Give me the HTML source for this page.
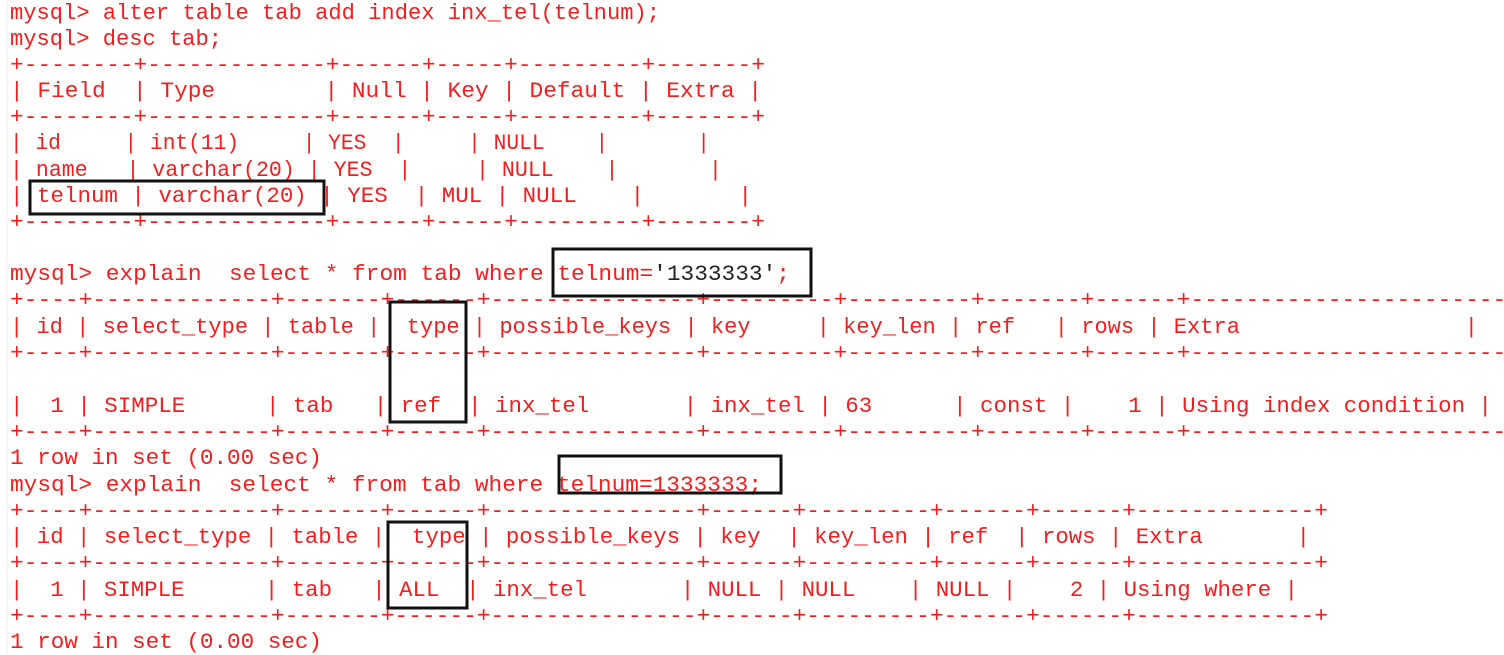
<!DOCTYPE html>
<html><head><meta charset="utf-8"><style>
html,body{margin:0;padding:0;background:#fff;width:1504px;height:655px;overflow:hidden}
svg text{font-family:"Liberation Mono","Courier New",monospace;font-size:22px;fill:#f51c1c;white-space:pre}
</style></head><body>
<svg width="1504" height="655" viewBox="0 0 1504 655" xmlns="http://www.w3.org/2000/svg">
<line x1="7" y1="0" x2="7" y2="655" stroke="#eee" stroke-width="1"/>
<g xml:space="preserve">
<text x="10" y="19" textLength="650" lengthAdjust="spacingAndGlyphs">mysql> alter table tab add index inx_tel(telnum);</text>
<text x="10" y="45" textLength="212" lengthAdjust="spacingAndGlyphs">mysql> desc tab;</text>
<text x="10" y="71" textLength="755" lengthAdjust="spacingAndGlyphs">+--------+-------------+------+-----+---------+-------+</text>
<text x="10" y="97" textLength="752" lengthAdjust="spacingAndGlyphs">| Field  | Type        | Null | Key | Default | Extra |</text>
<text x="10" y="123" textLength="755" lengthAdjust="spacingAndGlyphs">+--------+-------------+------+-----+---------+-------+</text>
<text x="10" y="149" textLength="700" lengthAdjust="spacingAndGlyphs">| id     | int(11)     | YES  |     | NULL    |       |</text>
<text x="10" y="176" textLength="712" lengthAdjust="spacingAndGlyphs">| name   | varchar(20) | YES  |     | NULL    |       |</text>
<text x="10" y="202" textLength="742" lengthAdjust="spacingAndGlyphs">| telnum | varchar(20) | YES  | MUL | NULL    |       |</text>
<text x="10" y="228" textLength="755" lengthAdjust="spacingAndGlyphs">+--------+-------------+------+-----+---------+-------+</text>
<text x="10" y="280" textLength="780" lengthAdjust="spacingAndGlyphs">mysql> explain  select * from tab where telnum=<tspan style="fill:#222">'1333333'</tspan>;</text>
<text x="10" y="306" textLength="1510" lengthAdjust="spacingAndGlyphs">+----+-------------+-------+------+---------------+---------+---------+-------+------+-----------------------+</text>
<text x="10" y="333" textLength="1468" lengthAdjust="spacingAndGlyphs">| id | select_type | table |  type | possible_keys | key     | key_len | ref   | rows | Extra                 |</text>
<text x="10" y="359" textLength="1510" lengthAdjust="spacingAndGlyphs">+----+-------------+-------+------+---------------+---------+---------+-------+------+-----------------------+</text>
<text x="10" y="412" textLength="1482" lengthAdjust="spacingAndGlyphs">|  1 | SIMPLE      | tab   | ref  | inx_tel       | inx_tel | 63      | const |    1 | Using index condition |</text>
<text x="10" y="438" textLength="1510" lengthAdjust="spacingAndGlyphs">+----+-------------+-------+------+---------------+---------+---------+-------+------+-----------------------+</text>
<text x="10" y="464" textLength="312" lengthAdjust="spacingAndGlyphs">1 row in set (0.00 sec)</text>
<text x="10" y="491" textLength="752" lengthAdjust="spacingAndGlyphs">mysql> explain  select * from tab where telnum=1333333;</text>
<text x="10" y="517" textLength="1318" lengthAdjust="spacingAndGlyphs">+----+-------------+-------+------+---------------+------+---------+------+------+-------------+</text>
<text x="10" y="543" textLength="1300" lengthAdjust="spacingAndGlyphs">| id | select_type | table |  type | possible_keys | key  | key_len | ref  | rows | Extra       |</text>
<text x="10" y="569" textLength="1318" lengthAdjust="spacingAndGlyphs">+----+-------------+-------+------+---------------+------+---------+------+------+-------------+</text>
<text x="10" y="596" textLength="1288" lengthAdjust="spacingAndGlyphs">|  1 | SIMPLE      | tab   | ALL  | inx_tel       | NULL | NULL    | NULL |    2 | Using where |</text>
<text x="10" y="622" textLength="1318" lengthAdjust="spacingAndGlyphs">+----+-------------+-------+------+---------------+------+---------+------+------+-------------+</text>
<text x="10" y="648" textLength="312" lengthAdjust="spacingAndGlyphs">1 row in set (0.00 sec)</text>
</g>
<g fill="none" stroke="#111" stroke-width="3">
<rect x="30" y="181" width="294" height="33"/>
<rect x="553" y="249" width="258" height="47"/>
<rect x="390" y="302" width="76" height="120"/>
<rect x="559" y="456" width="222" height="37"/>
<rect x="388" y="522" width="79" height="86"/>
</g>
</svg>
</body></html>
